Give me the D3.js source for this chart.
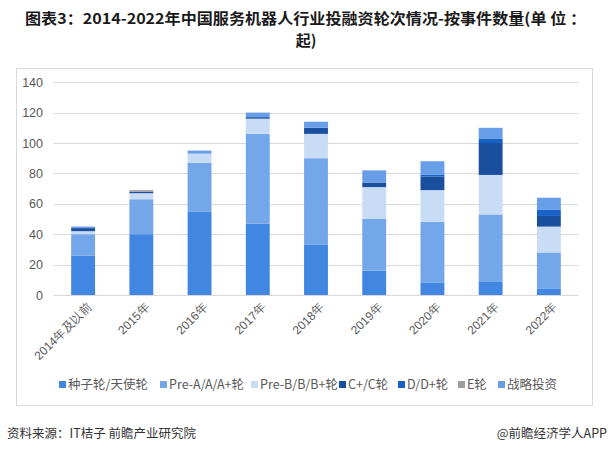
<!DOCTYPE html>
<html><head><meta charset="utf-8">
<script src="https://cdn.jsdelivr.net/npm/d3@7/dist/d3.min.js"></script>
<style>
html,body{margin:0;padding:0;background:#fff;}
svg{display:block;font-family:"Noto Sans CJK SC","Noto Sans",sans-serif;}
</style></head>
<body><svg id="c" width="612" height="456"></svg>
<script>
const categories = ["2014年及以前","2015年","2016年","2017年","2018年","2019年","2020年","2021年","2022年"];
const seriesNames = ["种子轮/天使轮","Pre-A/A/A+轮","Pre-B/B/B+轮","C+/C轮","D/D+轮","E轮","战略投资"];
const seed      = [26, 40, 55, 47, 33, 16,  8,  9,  4];
const preA      = [14, 23, 32, 59, 57, 34, 40, 44, 24];
const preB      = [ 2,  4,  6, 10, 16, 21, 21, 26, 17];
const roundC    = [ 2,  1,  0,  1,  4,  3,  9, 21,  7];
const roundD    = [ 0,  0,  0,  0,  0,  0,  1,  3,  4];
const roundE    = [ 0,  1,  0,  0,  0,  0,  0,  0,  0];
const strategic = [ 1,  0,  2,  3,  4,  8,  9,  7,  8];
const yTicks = [0,20,40,60,80,100,120,140];
const colors = ["#4186e0","#74a7ea","#c8dcf6","#1a4f9d","#1862c7","#9e9e9e","#689ee8"];

const seriesData = [seed, preA, preB, roundC, roundD, roundE, strategic];
const table = categories.map((c,i)=>{
  const o={cat:c};
  seriesNames.forEach((s,j)=>o[s]=seriesData[j][i]);
  return o;
});
const stack = d3.stack().keys(seriesNames)(table);

const svg = d3.select("#c");
// outer chart border
svg.append("rect").attr("x",16.5).attr("y",68.5).attr("width",576).attr("height",337)
  .attr("fill","none").attr("stroke","#d9d9d9").attr("stroke-width",1);

// title
const title = svg.append("g").attr("font-weight","bold").attr("fill","#1a1a1a").attr("font-size",15);
title.append("text").attr("x",25).attr("y",24)
  .attr("textLength",561).attr("lengthAdjust","spacingAndGlyphs")
  .text("图表3：2014-2022年中国服务机器人行业投融资轮次情况-按事件数量(单 位 ：");
title.append("text").attr("x",306).attr("y",46).attr("text-anchor","middle").text("起)");

const x = d3.scaleBand().domain(categories).range([54,578]).paddingInner(0.59).paddingOuter(0.295);
const y = d3.scaleLinear().domain([0,140]).range([295,82.2]);

// gridlines
svg.append("g").selectAll("line").data(yTicks).join("line")
  .attr("x1",54).attr("x2",578)
  .attr("y1",d=>Math.round(y(d))+0.5).attr("y2",d=>Math.round(y(d))+0.5)
  .attr("stroke","#d9d9d9").attr("stroke-width",1);

// y axis labels via d3 axis
const yAxis = svg.append("g").attr("transform","translate(47,0)")
  .call(d3.axisLeft(y).tickValues(yTicks).tickSize(0).tickPadding(4));
yAxis.select(".domain").remove();
yAxis.selectAll("text").attr("font-size",12.5).attr("fill","#595959")
  .attr("font-family","'Liberation Sans','DejaVu Sans',sans-serif");

// bars
svg.append("g").selectAll("g").data(stack).join("g")
  .attr("fill",(d,i)=>colors[i])
  .selectAll("rect").data(d=>d).join("rect")
  .attr("x",d=>x(d.data.cat))
  .attr("width",x.bandwidth())
  .attr("y",d=>y(d[1]))
  .attr("height",d=>Math.max(0,y(d[0])-y(d[1])));

// x axis
const xAxis = svg.append("g").attr("transform","translate(0,295)")
  .call(d3.axisBottom(x).tickSize(0).tickPadding(0));
xAxis.select(".domain").attr("stroke","#d9d9d9").attr("d","M54,0.5H578");
xAxis.selectAll("text")
  .attr("font-size",12).attr("fill","#595959")
  .attr("text-anchor","end")
  .attr("transform","translate(6,10) rotate(-45)")
  .attr("dy","0.35em").attr("y",0).attr("x",0);

// legend
const legendX = [59,160,251,339,398,458,498];
const lg = svg.append("g").selectAll("g").data(seriesNames).join("g")
  .attr("transform",(d,i)=>`translate(${legendX[i]},385)`);
lg.append("rect").attr("x",0).attr("y",-4).attr("width",7).attr("height",7).attr("fill",(d,i)=>colors[i]);
lg.append("text").attr("x",9).attr("y",0).attr("dy","0.35em")
  .attr("font-size",12.5).attr("fill","#595959").text(d=>d);

// footer
svg.append("text").attr("x",7).attr("y",438).attr("font-size",12.5).attr("fill","#333")
  .text("资料来源：IT桔子 前瞻产业研究院");
svg.append("text").attr("x",607).attr("y",438).attr("font-size",12.5).attr("fill","#333")
  .attr("text-anchor","end").text("@前瞻经济学人APP");
</script></body></html>
